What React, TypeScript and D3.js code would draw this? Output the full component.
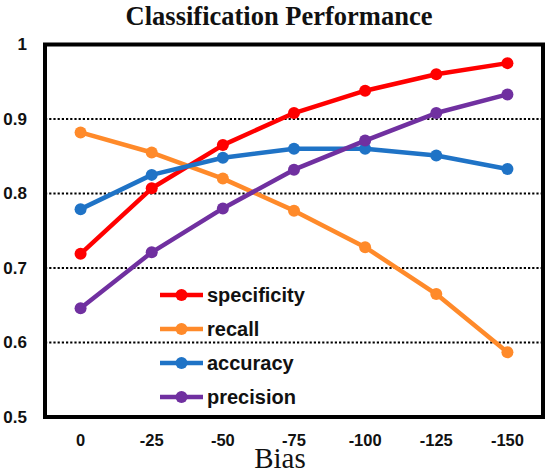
import * as d3 from "d3";

const biasLabels = ["0", "-25", "-50", "-75", "-100", "-125", "-150"];
const specificity = [0.719, 0.807, 0.865, 0.908, 0.938, 0.96, 0.975];
const recall = [0.882, 0.855, 0.82, 0.777, 0.728, 0.665, 0.587];
const accuracy = [0.779, 0.825, 0.848, 0.86, 0.86, 0.851, 0.833];
const precision = [0.646, 0.721, 0.78, 0.832, 0.871, 0.908, 0.933];
const yTicks = [0.5, 0.6, 0.7, 0.8, 0.9, 1];
const yTickLabels = ["0.5", "0.6", "0.7", "0.8", "0.9", "1"];
const gridTicks = [0.6, 0.7, 0.8, 0.9];

const series = [
  { name: "specificity", values: specificity, color: "#ff0000" },
  { name: "recall", values: recall, color: "#ff8a2a" },
  { name: "accuracy", values: accuracy, color: "#1f73c6" },
  { name: "precision", values: precision, color: "#7030a0" },
];

const W = 550;
const H = 473;
const plot = { left: 45, right: 543, top: 44.5, bottom: 417 };

const App = () => {
  const x = d3
    .scalePoint<string>()
    .domain(biasLabels)
    .range([plot.left, plot.right])
    .padding(0.5);
  const y = d3.scaleLinear().domain([0.5, 1]).range([plot.bottom, plot.top]);

  const line = d3
    .line<number>()
    .x((_d, i) => x(biasLabels[i]) as number)
    .y((d) => y(d));

  const sans = "'Liberation Sans', Arial, sans-serif";
  const serif = "'Liberation Serif', 'DejaVu Serif', serif";

  // legend layout
  const legendX = 160;
  const legendYs = [295, 329, 363, 397];

  return (
    <svg
      width={W}
      height={H}
      style={{ position: "absolute", left: 0, top: 0, background: "#fff" }}
    >
      <text
        x={279}
        y={25}
        textAnchor="middle"
        fontFamily={serif}
        fontWeight="bold"
        fontSize={26.5}
        fill="#111"
      >
        Classification Performance
      </text>

      {/* dotted grid */}
      {gridTicks.map((t) => (
        <line
          key={t}
          x1={plot.left}
          x2={plot.right}
          y1={y(t)}
          y2={y(t)}
          stroke="#000"
          strokeWidth={2.2}
          strokeDasharray="2.2,2"
        />
      ))}

      {/* frame */}
      <rect
        x={plot.left}
        y={plot.top}
        width={plot.right - plot.left}
        height={plot.bottom - plot.top}
        fill="none"
        stroke="#000"
        strokeWidth={4}
      />

      {/* y ticks */}
      {yTicks.map((t, i) => (
        <text
          key={t}
          x={27}
          y={y(t)}
          dy="0.35em"
          textAnchor="end"
          fontFamily={sans}
          fontWeight="bold"
          fontSize={17}
          fill="#111"
        >
          {yTickLabels[i]}
        </text>
      ))}

      {/* x ticks */}
      {biasLabels.map((b) => (
        <text
          key={b}
          x={x(b)}
          y={440}
          dy="0.35em"
          textAnchor="middle"
          fontFamily={sans}
          fontWeight="bold"
          fontSize={16.5}
          fill="#111"
        >
          {b}
        </text>
      ))}

      <text
        x={280}
        y={468}
        textAnchor="middle"
        fontFamily={serif}
        fontSize={29}
        fill="#111"
      >
        Bias
      </text>

      {/* series */}
      {series.map((s) => (
        <g key={s.name}>
          <path
            d={line(s.values) || ""}
            fill="none"
            stroke={s.color}
            strokeWidth={4.5}
            strokeLinejoin="round"
          />
          {s.values.map((v, i) => (
            <circle
              key={i}
              cx={x(biasLabels[i])}
              cy={y(v)}
              r={6}
              fill={s.color}
            />
          ))}
        </g>
      ))}

      {/* legend */}
      {series.map((s, i) => (
        <g key={s.name} transform={`translate(${legendX},${legendYs[i]})`}>
          <line x1={0} x2={43} y1={0} y2={0} stroke={s.color} strokeWidth={4.5} />
          <circle cx={21.5} cy={0} r={6} fill={s.color} />
          <text
            x={47}
            y={0}
            dy="0.35em"
            fontFamily={sans}
            fontWeight="bold"
            fontSize={20}
            fill="#111"
          >
            {s.name}
          </text>
        </g>
      ))}
    </svg>
  );
};

export default App;
